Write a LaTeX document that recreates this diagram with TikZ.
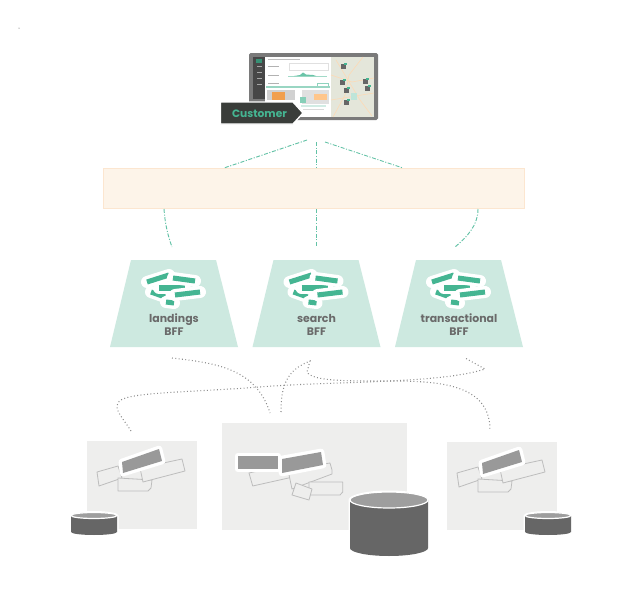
\documentclass[tikz,border=0pt]{standalone}
\usepackage{fontspec}
\setmainfont{Poppins}
\definecolor{tealbar}{HTML}{45B592}
\definecolor{tealbg}{HTML}{CDE9E0}
\definecolor{tealln}{HTML}{63C2A6}
\definecolor{gwfill}{HTML}{FDF4E9}
\definecolor{gwline}{HTML}{FCE6D0}
\definecolor{svcbg}{HTML}{EEEEED}
\definecolor{svcln}{HTML}{BDBDBD}
\definecolor{dbdark}{HTML}{666666}
\definecolor{dbtop}{HTML}{9E9E9E}
\definecolor{hlbar}{HTML}{999999}
\definecolor{tagdark}{HTML}{3A3D3A}
\definecolor{txtgrey}{HTML}{6A6A6A}
\definecolor{mapbg}{HTML}{E4E6DA}
\tikzset{
  x=0.75pt,y=-0.75pt,
  bfflabel/.style={font=\fontsize{8.2pt}{9.8pt}\selectfont\bfseries,text=txtgrey,align=center,inner sep=0pt},
  syncline/.style={tealln,line width=0.7pt,dash pattern=on 3pt off 1.2pt on .8pt off 1.2pt},
  asyncline/.style={black!45,line width=0.8pt,dash pattern=on .7pt off 1.8pt},
  svcbox/.style={fill=svcbg,draw=none,inner sep=0pt,outer sep=0pt},
  ghost/.style={draw=svcln,fill=svcbg,line width=0.6pt,line join=round},
  active/.style={fill=hlbar,preaction={draw=white,fill=white,line width=5pt,line join=round}},
  barhalo/.style={white,line width=9pt,line cap=round},
  barcore/.style={tealbar,line width=3.8pt},
  bffpic/.pic={
    \fill[tealbg] (21,0) -- (106,0) -- (128,87) -- (0,87) -- cycle;
    \begin{scope}[shift={(21,0)}]
    \foreach \a/\b/\c/\d in {20/32/34/37,35/42/43/43,28/28/54/28,16/22/38/15,42/18/64/21,44/35/69/32}{
      \draw[barhalo] (\a,\b) -- (\c,\d);
      \draw[barcore] (\a,\b) -- (\c,\d);
    }
    \end{scope}
  },
  svcicons/.pic={
    \draw[ghost] (10,31) -- (31,25) -- (35,37) -- (12,45) -- cycle;
    \draw[ghost] (31,37) -- (65,39) -- (64,47) -- (61,50) -- (31,50) -- cycle;
    \draw[ghost] (53,27) -- (95,18) -- (98,30) -- (56,41) -- cycle;
    \path[active] (35,21) -- (72,8) -- (75,20) -- (36,32) -- cycle;
  },
}
\newcommand{\dbcyl}[5]{% cx, top cy, rx, ry, bottom cy
  \fill[white] (#1-#3-1.5,#2) -- (#1-#3-1.5,#5) arc[start angle=180,end angle=0,x radius=#3+1.5,y radius=#4+1.5] -- (#1+#3+1.5,#2) arc[start angle=0,end angle=-180,x radius=#3+1.5,y radius=#4+1.5] -- cycle;
  \fill[dbdark] (#1-#3,#2) -- (#1-#3,#5) arc[start angle=180,end angle=0,x radius=#3,y radius=#4] -- (#1+#3,#2) -- cycle;
  \draw[white,line width=0.9pt,fill=dbtop] (#1,#2) ellipse[x radius=#3,y radius=#4];
}
\begin{document}
\begin{tikzpicture}
\useasboundingbox (0,0) rectangle (633,589);
\fill[white] (0,0) rectangle (633,589);
\fill[black!70] (19,28) circle[radius=.5];

% customer screenshot
\node[fill=black!52,rounded corners=1.2pt,minimum width=96.75pt,minimum height=50.25pt,inner sep=0pt] (screen) at (313.5,86.5) {};
\fill[white] (265,57) rectangle (331,117);
\fill[black!72] (253,57) rectangle (265,99);
\fill[tealbar!80!black] (256,59) rectangle (262,63);
\foreach \y in {66,72,78,84}{\fill[black!35] (256.5,\y) rectangle (261.5,\y+.8);}
\fill[black!25] (268,58.5) rectangle (300,59.5);
\foreach \y in {66,75,83}{\fill[black!30] (268,\y) rectangle (279,\y+1);}
\draw[black!12,line width=.3pt] (289,63) rectangle (328,70);
\draw[tealbar!50,line width=.4pt] (288,76) -- (327,76);
\fill[tealbar!80] (294,76) -- (300,75) -- (303,72.5) -- (306,74.5) -- (313,75) -- (316,76) -- cycle;
\draw[tealbar!60,line width=.4pt] (317,83) rectangle (328,86);
\draw[tealbar!55,line width=.8pt] (266,87) -- (330,87);
\fill[black!18] (267,90) rectangle (295,100);
\fill[orange!70!brown!75] (272,92) rectangle (285,100);
\fill[black!12] (302,90) rectangle (329,104);
\fill[orange!45] (314,94) rectangle (327,100);
\fill[tealbar!65] (300,97) rectangle (306,103);
\fill[tealbar!25] (301,105) rectangle (326,107);
\fill[black!15] (303,109) rectangle (324,110);
\fill[mapbg] (331,57) rectangle (374,117);
\draw[orange!30,line width=.4pt] (333,117) -- (345,95) -- (349,75) -- (363,57) (331,75) -- (352,82) -- (374,78) (336,60) -- (360,100) -- (372,116) (331,100) -- (374,93);
\fill[tealbar!35] (351,93) rectangle (357,100);
\foreach \x/\y in {341/64,340/80,344/88,363/79,365/86,344/100}{
  \fill[black!60] (\x,\y) rectangle (\x+5,\y+4.5);
  \fill[tealbar] (\x+3,\y-1.5) rectangle (\x+6,\y+1);
}
% customer tag
\draw[white,line width=1pt,fill=tagdark,line join=round] (220.5,102) -- (293,102) -- (303,113) -- (293,124) -- (220.5,124) -- cycle;
\node[inner sep=0pt,text=tealbar,font=\fontsize{8pt}{10pt}\selectfont\bfseries] (customer) at (259.5,114) {Customer};

% gateway
\node[fill=gwfill,draw=gwline,line width=0.8pt,minimum width=316pt,minimum height=30.4pt,inner sep=0pt,outer sep=0pt] (gateway) at (314,188.5) {};

% BFFs
\pic at (110,260) {bffpic};
\pic at (252.5,260) {bffpic};
\pic at (395,260) {bffpic};
\node[bfflabel] (landings) at (174,324.5) {landings\\BFF};
\node[bfflabel] (search) at (316.5,324.5) {search\\BFF};
\node[bfflabel] (transactional) at (459,324.5) {transactional\\BFF};

% free ends of the connectors
\coordinate (s1) at (307,140); \coordinate (g1) at (224,168);
\coordinate (s2) at (316,142); \coordinate (g2) at (316,168);
\coordinate (s3) at (325,142); \coordinate (g3) at (403,168);
\coordinate (g4) at (164,209); \coordinate (b1) at (172,247);
\coordinate (g5) at (316,209); \coordinate (b2) at (316,247);
\coordinate (g6) at (478,209); \coordinate (b3) at (455,247);
\draw[syncline] (s1) -- (g1);
\draw[syncline] (s2) -- (g2);
\draw[syncline] (s3) -- (g3);
\draw[syncline] (g4) .. controls (165,224) and (168,236) .. (b1);
\draw[syncline] (g5) -- (b2);
\draw[syncline] (g6) .. controls (478,225) and (468,236) .. (b3);

% services
\node[svcbox,minimum width=82.5pt,minimum height=66pt] (svcl) at (142,485) {};
\node[svcbox,minimum width=139pt,minimum height=80pt] (svcc) at (314.5,476.5) {};
\node[svcbox,minimum width=82.5pt,minimum height=66pt] (svcr) at (502,486) {};
\pic at (87,441) {svcicons};
\pic at (447,442) {svcicons};
% centre service
\draw[ghost] (249,473) -- (285,465) -- (293,477) -- (252.7,486) -- cycle;
\draw[ghost] (288,470) -- (330,463) -- (332,470) -- (332,474) -- (292,489) -- cycle;
\draw[ghost] (309,482) -- (342.7,482) -- (342.7,492) -- (340,495) -- (309,495) -- cycle;
\draw[ghost] (296,483) -- (312,489) -- (309,500) -- (292,495) -- cycle;
\path[active] (238,456) -- (278,456) -- (278,469) -- (238,469) -- cycle;
\path[active] (282,459) -- (321,452) -- (323,465) -- (282,473) -- cycle;

% data stores
\dbcyl{94}{515.5}{23}{3}{532}
\dbcyl{548}{515.5}{23}{3}{532}
\dbcyl{389}{500}{39}{8}{548}

% asynchronous connectors
\coordinate (a1) at (172,358); \coordinate (a2) at (270,413);
\draw[asyncline] (a1) .. controls (215,363) and (256,368) .. (a2);
\coordinate (a3) at (281,412); \coordinate (a4) at (310,361); \coordinate (a5) at (307,372); \coordinate (a6) at (490,430);
\draw[asyncline] (a3) .. controls (281,385) and (287,370) .. (a4) -- (a5)
  .. controls (312,381) and (345,381) .. (380,381) .. controls (430,381) and (490,380) .. (a6);
\coordinate (a7) at (131,431); \coordinate (a8) at (485,369); \coordinate (a9) at (465,358);
\draw[asyncline] (a7) .. controls (123,418) and (114,410) .. (118,403) .. controls (122,392) and (180,393) .. (260,387)
  .. controls (330,381) and (440,384) .. (a8) -- (a9);
\end{tikzpicture}
\end{document}
